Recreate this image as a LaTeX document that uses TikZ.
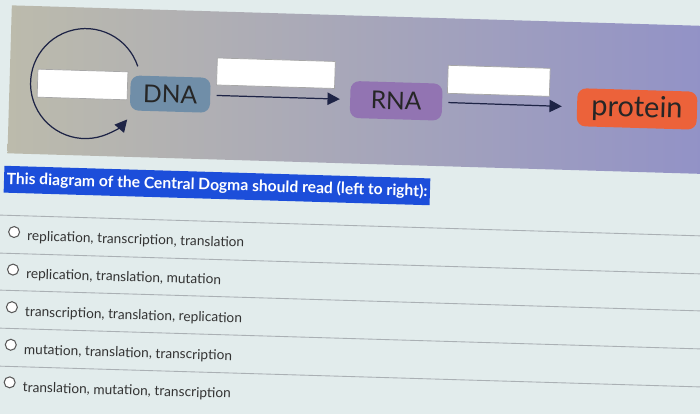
\documentclass[tikz,border=0pt]{standalone}
\usepackage{fontspec}
\setmainfont{Lato}
\usetikzlibrary{arrows.meta,positioning}
\definecolor{pagebg}{RGB}{226,236,236}
\definecolor{panelL}{RGB}{188,187,172}
\definecolor{panelR}{RGB}{144,144,200}
\definecolor{dnafill}{RGB}{112,142,168}
\definecolor{rnafill}{RGB}{146,116,178}
\definecolor{protfill}{RGB}{236,98,58}
\definecolor{arrowcol}{RGB}{30,36,70}
\definecolor{hilite}{RGB}{28,78,218}
\definecolor{sepcol}{RGB}{170,176,180}
\tikzset{
  molecule/.style={rounded corners=5pt, text=black!85, inner sep=0pt, font=\fontsize{14}{16}\selectfont},
  blank/.style={draw=gray!70, fill=white, line width=0.4pt, inner sep=0pt},
  flow/.style={-{Triangle[length=7pt,width=7pt]}, draw=arrowcol, line width=0.7pt},
  radio/.style={circle, draw=gray!70!black, fill=white, line width=0.6pt, minimum size=0.22cm, inner sep=0pt},
  answer/.style={anchor=west, text=black!80, font=\fontsize{7.8}{9}\selectfont, inner sep=0pt},
}
\begin{document}
\begin{tikzpicture}[x=0.02cm, y=-0.02cm]
  \useasboundingbox (0,0) rectangle (700,414);
  % page
  \fill[pagebg] (0,0) rectangle (700,414);
  \begin{scope}[rotate=-1.7, transform shape]
    % panel
    \shade[left color=panelL, right color=panelR] (12,5) rectangle (740,153);
    % molecules
    \node[molecule, fill=dnafill, minimum width=1.6cm, minimum height=0.7cm] (dna) at (173,89) {DNA};
    \node[molecule, fill=rnafill, minimum width=1.84cm, minimum height=0.74cm] (rna) at (399,89) {RNA};
    \node[molecule, fill=protfill, minimum width=2.4cm, minimum height=0.76cm,
      font=\fontsize{16.5}{18}\selectfont] (protein) at (640,90) {protein};
    % blanks
    \node[blank, minimum width=1.8cm, minimum height=0.56cm] (blank1) at (85,82) {};
    \node[blank, minimum width=2.36cm, minimum height=0.54cm] (blank2) at (278,65) {};
    \node[blank, minimum width=2.04cm, minimum height=0.56cm] (blank3) at (501,66) {};
    % arrows
    \coordinate (loopc) at (88,81);
    \draw[flow] ([shift={(20:1.1cm)}]loopc) arc[start angle=20, end angle=321, radius=1.1cm];
    \draw[flow, shorten <=3.4pt, shorten >=5.7pt] (dna) -- (rna);
    \draw[flow, shorten <=3.4pt, shorten >=8.5pt] (rna) -- (protein);
    % question
    \node[fill=hilite, text=white, anchor=west, inner xsep=1.5pt, minimum height=0.4cm,
      font=\bfseries\fontsize{8.9}{10}\selectfont] (question) at (9,179)
      {This diagram of the Central Dogma should read (left to right):};
    % separators
    \foreach \y in {215,253,290,328,366}
      \draw[sepcol, line width=0.5pt] (-20,\y) -- (740,\y);
    % options
    \foreach \i/\txt in {1/{replication, transcription, translation},
                         2/{replication, translation, mutation},
                         3/{transcription, translation, replication},
                         4/{mutation, translation, transcription},
                         5/{translation, mutation, transcription}} {
      \node[radio] (radio\i) at (21,{231.5+37.6*(\i-1)}) {};
      \node[answer] (opt\i) at (34,{236+37.8*(\i-1)}) {\txt};
    }
  \end{scope}
\end{tikzpicture}
\end{document}
